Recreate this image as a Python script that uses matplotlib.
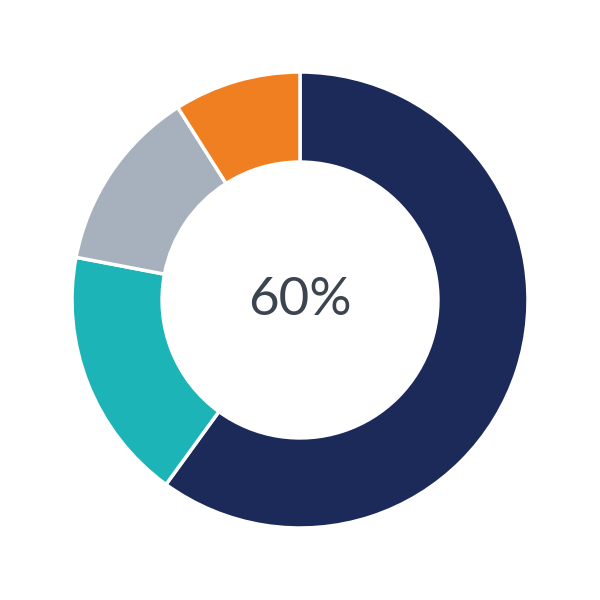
import matplotlib.pyplot as plt

labels = ['A', 'B', 'C', 'D']
values = [60, 18, 13, 9]
colors = ['#1c2a5a', '#1db4b7', '#a7b0bd', '#f07f22']
center_label = '60%'

fig = plt.figure(figsize=(6, 6), dpi=100)
ax = fig.add_axes([0, 0, 1, 1])

ax.pie(values, colors=colors, startangle=90, counterclock=False,
       radius=1.0,
       wedgeprops=dict(width=0.395, edgecolor='white', linewidth=2.5))

ax.text(0, 0, center_label, ha='center', va='center', fontsize=38,
        family=['Lato', 'DejaVu Sans'], fontweight='normal', color='#3b444f')

lim = 300 / 228
ax.set_xlim(-lim, lim)
ax.set_ylim(-lim, lim)
ax.set_aspect('equal')
ax.axis('off')

fig.savefig('out.png', dpi=100, facecolor='white')
